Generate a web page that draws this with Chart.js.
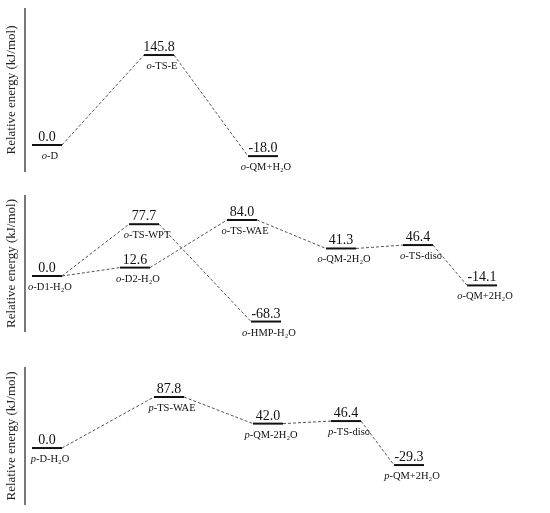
<!DOCTYPE html>
<html>
<head>
<meta charset="utf-8">
<script src="https://cdn.jsdelivr.net/npm/chart.js@4/dist/chart.umd.min.js"></script>
<style>
  body { margin: 0; background: #fff; }
  .panel { position: absolute; left: 0; width: 550px; }
</style>
</head>
<body>
<div class="panel" style="top:0;height:180px"><canvas id="c1"></canvas></div>
<div class="panel" style="top:180px;height:160px"><canvas id="c2"></canvas></div>
<div class="panel" style="top:350px;height:163px"><canvas id="c3"></canvas></div>
<script>
// panel 1: o-D direct elimination
const names1 = ['o|-D', 'o|-TS-E', 'o|-QM+H₂O'];
const energy1 = [0.0, 145.8, -18.0];
const steps1 = [47, 159, 263];
const links1 = [[0, 1], [1, 2]];

// panel 2: o-D with one water
const names2 = ['o|-D1-H₂O', 'o|-TS-WPT', 'o|-D2-H₂O', 'o|-TS-WAE', 'o|-HMP-H₂O', 'o|-QM-2H₂O', 'o|-TS-diso', 'o|-QM+2H₂O'];
const energy2 = [0.0, 77.7, 12.6, 84.0, -68.3, 41.3, 46.4, -14.1];
const steps2 = [47, 144, 135, 242, 266, 341, 418, 482];
const links2 = [[0, 1], [0, 2], [1, 4], [2, 3], [3, 5], [5, 6], [6, 7]];

// panel 3: p-D with water
const names3 = ['p|-D-H₂O', 'p|-TS-WAE', 'p|-QM-2H₂O', 'p|-TS-diso', 'p|-QM+2H₂O'];
const energy3 = [0.0, 87.8, 42.0, 46.4, -29.3];
const steps3 = [47, 169, 268, 346, 409];
const links3 = [[0, 1], [1, 2], [2, 3], [3, 4]];

const HALF = 15;
const SERIF = '"Liberation Serif", "DejaVu Serif", serif';

// draws the y axis line, title and the level labels
const labelPlugin = {
  id: 'levelLabels',
  afterDatasetsDraw(chart, args, opts) {
    const ctx = chart.ctx;
    const xs = chart.scales.x, ys = chart.scales.y;
    ctx.save();
    ctx.strokeStyle = '#777';
    ctx.lineWidth = 2;
    ctx.beginPath();
    ctx.moveTo(25, opts.axisTop);
    ctx.lineTo(25, opts.axisBottom);
    ctx.stroke();
    ctx.translate(12, (opts.axisTop + opts.axisBottom) / 2);
    ctx.rotate(-Math.PI / 2);
    ctx.fillStyle = '#222';
    ctx.font = '13px ' + SERIF;
    ctx.textAlign = 'center';
    ctx.textBaseline = 'middle';
    ctx.fillText('Relative energy (kJ/mol)', 0, 0);
    ctx.restore();

    ctx.save();
    ctx.fillStyle = '#111';
    opts.energy.forEach((v, i) => {
      const cx = xs.getPixelForValue(opts.steps[i]);
      const y = ys.getPixelForValue(v);
      ctx.font = '14px ' + SERIF;
      ctx.textAlign = 'center';
      ctx.textBaseline = 'alphabetic';
      ctx.fillText(v.toFixed(1), cx, y - 4);
      const [pre, rest] = opts.names[i].split('|');
      ctx.font = 'italic 10.5px ' + SERIF;
      const w1 = ctx.measureText(pre).width;
      ctx.font = '10.5px ' + SERIF;
      const w2 = ctx.measureText(rest).width;
      let x0 = cx + 3 - (w1 + w2) / 2;
      ctx.textAlign = 'left';
      ctx.font = 'italic 10.5px ' + SERIF;
      ctx.fillText(pre, x0, y + 14);
      ctx.font = '10.5px ' + SERIF;
      ctx.fillText(rest, x0 + w1, y + 14);
    });
    ctx.restore();
  }
};

function makePanel(id, names, energy, steps, links, yMin, yMax, axisTop, axisBottom) {
  const datasets = [];
  links.forEach(([a, b]) => {
    datasets.push({
      data: [{ x: steps[a] + HALF, y: energy[a] }, { x: steps[b] - HALF, y: energy[b] }],
      borderColor: '#555', borderWidth: 1, borderDash: [3, 2]
    });
  });
  energy.forEach((v, i) => {
    datasets.push({
      data: [{ x: steps[i] - HALF, y: v }, { x: steps[i] + HALF, y: v }],
      borderColor: '#111', borderWidth: 2
    });
  });
  new Chart(document.getElementById(id), {
    type: 'line',
    data: { datasets },
    options: {
      responsive: true,
      maintainAspectRatio: false,
      animation: false,
      layout: { padding: 0 },
      elements: { point: { radius: 0 }, line: { tension: 0 } },
      plugins: {
        legend: { display: false },
        tooltip: { enabled: false },
        levelLabels: { names, energy, steps, axisTop, axisBottom }
      },
      scales: {
        x: { type: 'linear', min: 0, max: 550, display: false },
        y: { min: yMin, max: yMax, display: false }
      }
    },
    plugins: [labelPlugin]
  });
}

makePanel('c1', names1, energy1, steps1, links1, -56.7, 235, 8, 172);
makePanel('c2', names2, energy2, steps2, links2, -96, 144, 15, 152);
makePanel('c3', names3, energy3, steps3, links3, -111.8, 168.7, 17, 155);
</script>
</body>
</html>
